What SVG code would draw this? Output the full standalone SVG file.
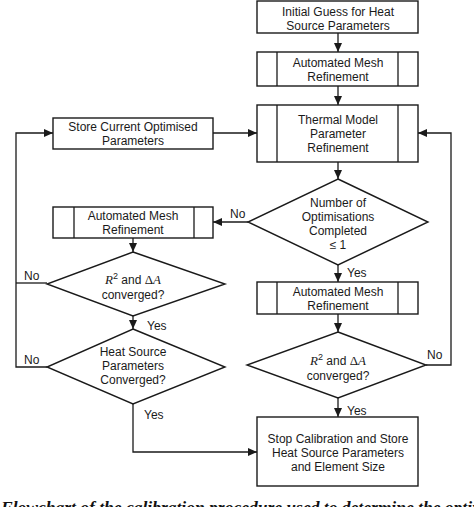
<svg xmlns="http://www.w3.org/2000/svg" width="474" height="507" viewBox="0 0 474 507">
<defs>
<marker id="arr" markerUnits="userSpaceOnUse" markerWidth="10" markerHeight="10" refX="9" refY="4" orient="auto">
<path d="M0,0 L9,4 L0,8 Z" fill="#1a1a1a"/>
</marker>
</defs>
<style>
.box{fill:#fff;stroke:#1a1a1a;stroke-width:1.4}
.ln{fill:none;stroke:#1a1a1a;stroke-width:1.3}
.t{font-family:"Liberation Sans",Arial,sans-serif;font-size:12px;fill:#1a1a1a;text-anchor:middle}
.lb{font-family:"Liberation Sans",Arial,sans-serif;font-size:12px;fill:#1a1a1a}
.m{font-family:"Liberation Serif","DejaVu Serif",serif;font-style:italic}
.cap{font-family:"Liberation Serif","Times New Roman",serif;font-style:italic;font-weight:bold;font-size:17.5px;fill:#111}
</style>
<rect width="474" height="507" fill="#fff"/>

<g id="connectors">
<line class="ln" x1="338" y1="33" x2="338" y2="52" marker-end="url(#arr)"/>
<line class="ln" x1="338" y1="86" x2="338" y2="105" marker-end="url(#arr)"/>
<line class="ln" x1="338" y1="162" x2="338" y2="179" marker-end="url(#arr)"/>
<line class="ln" x1="213" y1="133" x2="257" y2="133" marker-end="url(#arr)"/>
<polyline class="ln" points="47,283 16,283"/>
<polyline class="ln" points="47,367 16,367 16,133 53,133" marker-end="url(#arr)"/>
<line class="ln" x1="248" y1="222" x2="213" y2="222" marker-end="url(#arr)"/>
<line class="ln" x1="133" y1="238" x2="133" y2="252" marker-end="url(#arr)"/>
<line class="ln" x1="133" y1="316" x2="133" y2="329" marker-end="url(#arr)"/>
<polyline class="ln" points="133,404 133,452 257,452" marker-end="url(#arr)"/>
<line class="ln" x1="338" y1="265" x2="338" y2="282" marker-end="url(#arr)"/>
<line class="ln" x1="338" y1="314" x2="338" y2="332" marker-end="url(#arr)"/>
<line class="ln" x1="338" y1="398" x2="338" y2="417" marker-end="url(#arr)"/>
<polyline class="ln" points="426,365 451,365 451,133 418,133" marker-end="url(#arr)"/>
<text class="lb" x="230" y="218">No</text>
<text class="lb" x="347" y="277">Yes</text>
<text class="lb" x="24" y="280">No</text>
<text class="lb" x="147" y="330">Yes</text>
<text class="lb" x="24" y="364">No</text>
<text class="lb" x="144" y="419">Yes</text>
<text class="lb" x="427" y="359">No</text>
<text class="lb" x="347" y="415">Yes</text>
</g>

<g id="initial-guess">
<rect class="box" x="257" y="1" width="161" height="32"/>
<text class="t" x="338" y="16">Initial Guess for Heat</text>
<text class="t" x="338" y="30">Source Parameters</text>
</g>

<g id="mesh-refinement-1">
<rect class="box" x="257" y="52" width="161" height="34"/>
<line class="ln" x1="277" y1="52" x2="277" y2="86"/>
<line class="ln" x1="398" y1="52" x2="398" y2="86"/>
<text class="t" x="338" y="67">Automated Mesh</text>
<text class="t" x="338" y="81">Refinement</text>
</g>

<g id="thermal-model">
<rect class="box" x="257" y="105" width="161" height="57"/>
<line class="ln" x1="277" y1="105" x2="277" y2="162"/>
<line class="ln" x1="398" y1="105" x2="398" y2="162"/>
<text class="t" x="338" y="124">Thermal Model</text>
<text class="t" x="338" y="138">Parameter</text>
<text class="t" x="338" y="152">Refinement</text>
</g>

<g id="store-params">
<rect class="box" x="53" y="118" width="160" height="31"/>
<text class="t" x="133" y="131">Store Current Optimised</text>
<text class="t" x="133" y="145">Parameters</text>
</g>

<g id="num-optimisations">
<polygon class="box" points="338,179 428,222 338,265 248,222"/>
<text class="t" x="338" y="207">Number of</text>
<text class="t" x="338" y="221">Optimisations</text>
<text class="t" x="338" y="235">Completed</text>
<text class="t" x="338" y="249">≤ 1</text>
</g>

<g id="mesh-refinement-2">
<rect class="box" x="53" y="207" width="160" height="31"/>
<line class="ln" x1="74" y1="207" x2="74" y2="238"/>
<line class="ln" x1="194" y1="207" x2="194" y2="238"/>
<text class="t" x="133" y="220">Automated Mesh</text>
<text class="t" x="133" y="234">Refinement</text>
</g>

<g id="converged-left">
<polygon class="box" points="133,252 225,284 133,316 47,284"/>
<text class="t" x="133" y="284"><tspan class="m" font-size="13">R</tspan><tspan font-size="9" dy="-5">2</tspan><tspan dy="5"> and </tspan><tspan font-family="Liberation Serif,serif" font-size="13">Δ</tspan><tspan class="m" font-size="13">A</tspan></text>
<text class="t" x="133" y="299">converged?</text>
</g>

<g id="heat-source-converged">
<polygon class="box" points="133,329 225,367 133,404 47,367"/>
<text class="t" x="133" y="356">Heat Source</text>
<text class="t" x="133" y="370">Parameters</text>
<text class="t" x="133" y="384">Converged?</text>
</g>

<g id="mesh-refinement-3">
<rect class="box" x="257" y="282" width="161" height="32"/>
<line class="ln" x1="277" y1="282" x2="277" y2="314"/>
<line class="ln" x1="398" y1="282" x2="398" y2="314"/>
<text class="t" x="338" y="296">Automated Mesh</text>
<text class="t" x="338" y="310">Refinement</text>
</g>

<g id="converged-right">
<polygon class="box" points="338,332 426,365 338,398 247,365"/>
<text class="t" x="338" y="365"><tspan class="m" font-size="13">R</tspan><tspan font-size="9" dy="-5">2</tspan><tspan dy="5"> and </tspan><tspan font-family="Liberation Serif,serif" font-size="13">Δ</tspan><tspan class="m" font-size="13">A</tspan></text>
<text class="t" x="338" y="380">converged?</text>
</g>

<g id="stop-calibration">
<rect class="box" x="257" y="417" width="161" height="69"/>
<text class="t" x="338" y="443">Stop Calibration and Store</text>
<text class="t" x="338" y="457">Heat Source Parameters</text>
<text class="t" x="338" y="471">and Element Size</text>
</g>

<text class="cap" x="1" y="513">Flowchart of the calibration procedure used to determine the optimal</text>
</svg>
